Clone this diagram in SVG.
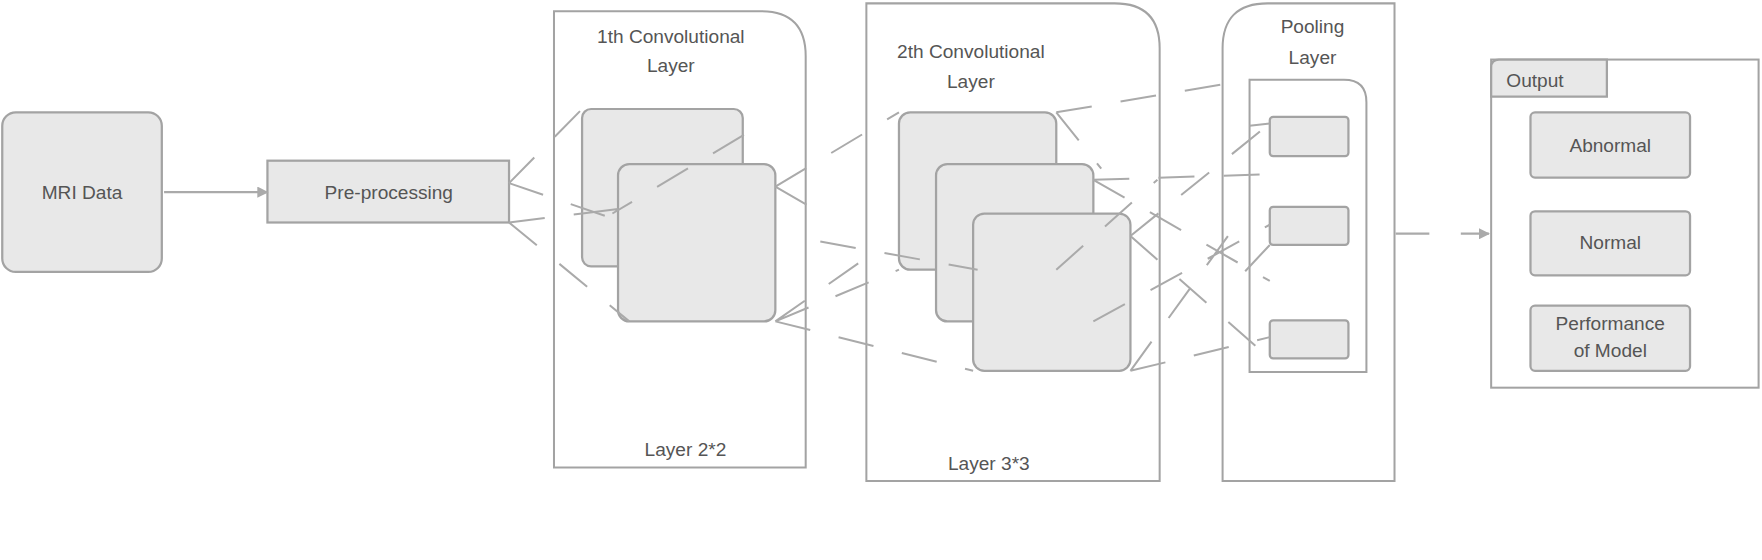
<svg xmlns="http://www.w3.org/2000/svg" width="1762" height="560" viewBox="0 0 1762 560">
<style>
.b{fill:#e8e8e8;stroke:#a3a3a3;stroke-width:2}
.c{fill:#fff;stroke:#a3a3a3;stroke-width:1.8}
.t{font-family:"Liberation Sans",Arial,sans-serif;font-size:17px;fill:#555;text-anchor:middle}
.d{stroke:#aaa;stroke-width:1.8;fill:none;stroke-dasharray:32 26}
</style>
<defs><marker id="a" markerWidth="10" markerHeight="10" refX="9" refY="5" orient="auto" markerUnits="userSpaceOnUse"><path d="M0,0L10,5L0,10Z" fill="#aaa"/></marker></defs>
<rect width="1762" height="560" fill="#fff"/>
<g transform="scale(1.1237)">
<g id="mri"><rect class="b" x="2" y="100" width="142" height="142" rx="12"/><text class="t" x="73" y="177">MRI Data</text></g>
<g id="pre"><rect class="b" x="238" y="143" width="215" height="55"/><text class="t" x="346" y="177">Pre-processing</text></g>
<g id="conv1"><path class="c" d="M493,416V10H677Q717,10 717,50V416Z"/>
<text class="t" x="597" y="38">1th Convolutional</text><text class="t" x="597" y="64">Layer</text><text class="t" x="610" y="406">Layer 2*2</text>
<rect class="b" x="518" y="97" width="143" height="140" rx="8"/><rect class="b" x="550" y="146" width="140" height="140" rx="10"/></g>
<g id="conv2"><path class="c" d="M771,428V3H992Q1032,3 1032,43V428Z"/>
<text class="t" x="864" y="52">2th Convolutional</text><text class="t" x="864" y="78">Layer</text><text class="t" x="880" y="418">Layer 3*3</text>
<rect class="b" x="800" y="100" width="140" height="140" rx="10"/><rect class="b" x="833" y="146" width="140" height="140" rx="10"/><rect class="b" x="866" y="190" width="140" height="140" rx="10"/></g>
<g id="pool"><path class="c" d="M1128,3H1241V428H1088V43Q1088,3 1128,3Z"/>
<path class="c" d="M1112,71H1196Q1216,71 1216,91V331H1112Z"/>
<text class="t" x="1168" y="29">Pooling</text><text class="t" x="1168" y="57">Layer</text>
<rect class="b" x="1130" y="104" width="70" height="35" rx="3"/><rect class="b" x="1130" y="184" width="70" height="34" rx="3"/><rect class="b" x="1130" y="285" width="70" height="34" rx="3"/></g>
<g id="out"><rect class="c" x="1327" y="53" width="238" height="292"/><path class="b" d="M1327,86V60Q1327,53 1334,53H1430V86Z"/>
<text class="t" x="1366" y="77">Output</text>
<rect class="b" x="1362" y="100" width="142" height="58" rx="4"/><text class="t" x="1433" y="135">Abnormal</text>
<rect class="b" x="1362" y="188" width="142" height="57" rx="4"/><text class="t" x="1433" y="222">Normal</text>
<rect class="b" x="1362" y="272" width="142" height="58" rx="4"/><text class="t" x="1433" y="294">Performance</text><text class="t" x="1433" y="318">of Model</text></g>
<g id="connectors">
<line x1="146" y1="171" x2="238" y2="171" stroke="#aaa" stroke-width="2" marker-end="url(#a)"/>
<line x1="1242" y1="208" x2="1325" y2="208" stroke="#aaa" stroke-width="2" stroke-dasharray="30 28" marker-end="url(#a)"/>
<path class="d" d="M453,163L518,97M453,163L550,196M453,198L518,190M453,198L560,286"/>
<path class="d" d="M662,120L545,190M550,186L518,190"/>
<path class="d" d="M690,166L800,100M690,166L740,195M690,286L800,240M690,286L866,330M690,286L770,230M730,215L870,240"/>
<path class="d" d="M940,100L1112,71M940,100L980,150M973,160L1130,155M973,160L1130,250M1006,210L1130,110M1006,210L1130,319M1006,330L1130,300M1006,330L1100,200M940,240L1030,160M973,286L1130,200"/>
<path class="d" d="M1130,110L1112,112M1130,218L1100,250"/>
</g>
</g>
</svg>
